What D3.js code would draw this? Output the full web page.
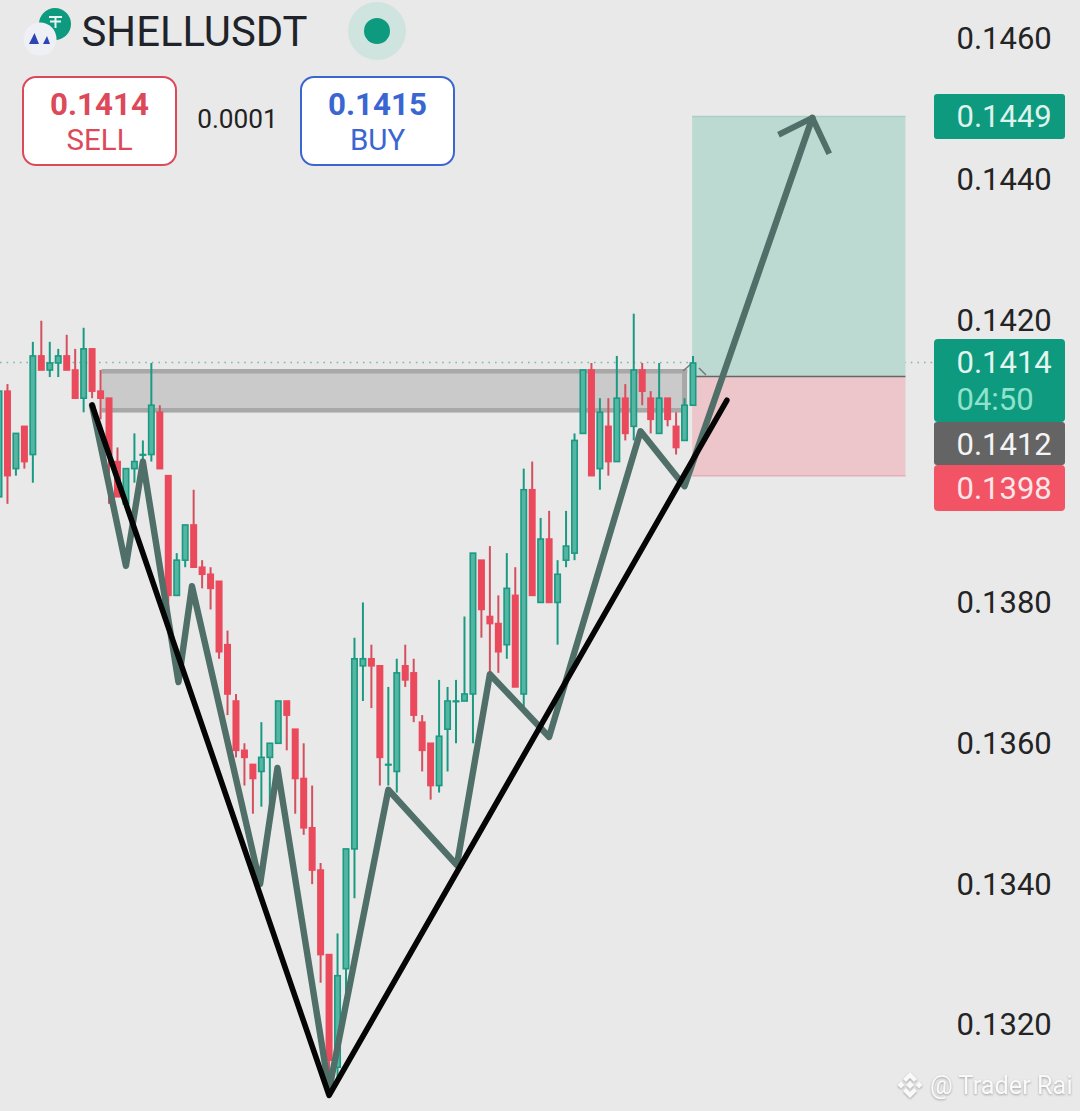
<!DOCTYPE html>
<html><head><meta charset="utf-8">
<script src="https://cdn.jsdelivr.net/npm/d3@7/dist/d3.min.js"></script>
<style>
html,body{margin:0;padding:0;background:#e9e9e9;overflow:hidden}
svg{display:block}
text{font-family:Roboto,sans-serif}
</style></head><body><svg id="c" width="1080" height="1111"></svg>
<script>
const opens=[.1395,.1410,.1399,.1405,.1401,.1415,.1413,.1414,.1415,.1413,.1409,.1416,.1410,.1409,.1400,.1394,.1399,.1401,.1401,.1407,.1398,.1381,.1386,.1391,.1385,.1384,.1383,.1374,.1366,.1359,.1357,.1356,.1358,.1360,.1366,.1362,.1355,.1348,.1342,.1330,.1314,.1328,.1345,.1371,.1372,.1371,.1357,.1356,.1371,.1370,.1363,.1360,.1354,.1362,.1366,.1366,.1367,.1386,.1378,.1377,.1374,.1381,.1367,.1396,.1380,.1389,.1380,.1386,.1387,.1404,.1413,.1399,.1405,.1400,.1409,.1405,.1413,.1409,.1404,.1409,.1405,.1403,.1408];
const highs=[.1411,.1411,.1404,.1405,.1417,.1420,.1417,.1416,.1418,.1416,.1419,.1416,.1413,.1409,.1402,.1399,.1404,.1403,.1414,.1408,.1398,.1387,.1391,.1396,.1386,.1385,.1383,.1376,.1367,.1360,.1357,.1363,.1360,.1366,.1366,.1362,.1360,.1354,.1343,.1330,.1333,.1345,.1375,.1380,.1374,.1371,.1368,.1372,.1374,.1372,.1364,.1360,.1369,.1368,.1369,.1378,.1387,.1386,.1388,.1381,.1387,.1385,.1399,.1400,.1392,.1393,.1386,.1393,.1404,.1413,.1414,.1409,.1409,.1415,.1411,.1421,.1414,.1410,.1414,.1409,.1407,.1409,.1415];
const lows=[.1394,.1394,.1398,.1399,.1397,.1413,.1412,.1412,.1413,.1409,.1407,.1409,.1406,.1394,.1395,.1394,.1397,.1398,.1400,.1399,.1376,.1381,.1385,.1385,.1382,.1379,.1372,.1364,.1358,.1354,.1350,.1351,.1349,.1360,.1359,.1350,.1347,.1340,.1326,.1313,.1312,.1323,.1338,.1366,.1365,.1354,.1354,.1353,.1368,.1363,.1356,.1352,.1353,.1356,.1360,.1366,.1360,.1375,.1370,.1370,.1372,.1368,.1365,.1381,.1380,.1380,.1374,.1385,.1386,.1404,.1398,.1396,.1398,.1400,.1403,.1403,.1408,.1404,.1404,.1405,.1401,.1403,.1408];
const closes=[.1410,.1398,.1404,.1400,.1415,.1413,.1414,.1415,.1413,.1409,.1416,.1410,.1409,.1401,.1395,.1399,.1400,.1401,.1408,.1399,.1381,.1386,.1391,.1385,.1384,.1382,.1373,.1367,.1359,.1358,.1355,.1358,.1360,.1366,.1364,.1355,.1348,.1342,.1330,.1315,.1327,.1345,.1372,.1372,.1371,.1358,.1357,.1370,.1369,.1364,.1359,.1354,.1361,.1366,.1366,.1367,.1387,.1379,.1377,.1373,.1382,.1368,.1396,.1381,.1389,.1380,.1384,.1388,.1403,.1413,.1398,.1407,.1400,.1409,.1404,.1413,.1410,.1406,.1409,.1406,.1402,.1408,.1414];
const axisTicks=[.1460,.1440,.1420,.1380,.1360,.1340,.1320];
const lastPrice=.1414, entryPrice=.1412, targetPrice=.1449, stopPrice=.1398;
const zoneTop=.1413, zoneBottom=.1407, zoneStart=12.0, zoneEnd=81;
const boxStart=81.9, boxEnd=107.1;
const trendBars=[11,39,86], trendPrices=[.1408,.1310,.14087];
const zigBars=[11,15,17,21.2,22.8,30.85,32.9,39,46,54.1,58,65,75.8,81,96.1];
const zigPrices=[.1408,.13852,.1400,.13687,.13823,.1340,.13565,.13108,.13534,.13427,.13698,.13609,.14043,.13965,.14488];
const headBars=[92.1,96.1,98.1], headPrices=[.14464,.14488,.14437];
const symbol="SHELLUSDT", sellPrice="0.1414", buyPrice="0.1415", spread="0.0001", countdown="04:50", watermark="@ Trader Rai";

const UP="#1a9a82", UPFILL="#55b5a3", DOWN="#ea4a5c", DOWNW="#d4505f";
const svg=d3.select("#c");
const x=d3.scaleLinear().domain([0,82]).range([-1,693]);
const y=d3.scaleLinear().domain([.1460,.1320]).range([39,1025]);
const fmt=d=>d.toFixed(4);
const candles=opens.map((o,i)=>({i,o,h:highs[i],l:lows[i],c:closes[i]}));

// last price dotted line
svg.append("line").attr("x1",0).attr("x2",934).attr("y1",y(lastPrice)-.5).attr("y2",y(lastPrice)-.5)
 .attr("stroke","#7db8aa").attr("stroke-width",1.4).attr("stroke-dasharray","1.6 5");

// position boxes
svg.append("rect").attr("x",x(boxStart)).attr("width",x(boxEnd)-x(boxStart)).attr("y",y(targetPrice)).attr("height",y(entryPrice)-y(targetPrice)).attr("fill","#bcd9d2");
svg.append("rect").attr("x",x(boxStart)).attr("width",x(boxEnd)-x(boxStart)).attr("y",y(entryPrice)).attr("height",y(stopPrice)-y(entryPrice)).attr("fill","#edc6cb");
svg.append("line").attr("x1",x(boxStart)).attr("x2",x(boxEnd)).attr("y1",y(targetPrice)).attr("y2",y(targetPrice)).attr("stroke","#a9cfc6").attr("stroke-width",1.5);
svg.append("line").attr("x1",x(boxStart)).attr("x2",x(boxEnd)).attr("y1",y(stopPrice)).attr("y2",y(stopPrice)).attr("stroke","#e3aeb5").attr("stroke-width",1.5);
svg.append("line").attr("x1",x(boxStart)).attr("x2",x(boxEnd)).attr("y1",y(entryPrice)-.5).attr("y2",y(entryPrice)-.5).attr("stroke","#666").attr("stroke-width",1.6);

// grey zone
svg.append("rect").attr("x",x(zoneStart)+1).attr("width",x(zoneEnd)-x(zoneStart)+1).attr("y",y(zoneTop)-1).attr("height",y(zoneBottom)-y(zoneTop)+1).attr("fill","#cacaca");
[[zoneStart,zoneEnd+.2,zoneTop,zoneTop],[zoneStart,zoneEnd+.2,zoneBottom,zoneBottom]].forEach(s=>{
 svg.append("line").attr("x1",x(s[0])+1).attr("x2",x(s[1])+1).attr("y1",y(s[2])+(s[2]===zoneTop?1.2:-2)).attr("y2",y(s[3])+(s[2]===zoneTop?1.2:-2)).attr("stroke","#a8a8a8").attr("stroke-width",4.6);
});
svg.append("line").attr("x1",x(zoneEnd)).attr("x2",x(zoneEnd)).attr("y1",y(zoneTop)).attr("y2",y(zoneBottom)).attr("stroke","#a8a8a8").attr("stroke-width",5);
// tiny corner ticks
svg.append("path").attr("d",d3.line()([[683,371],[691,364]])).attr("stroke","#777").attr("stroke-width",1.5).attr("fill","none");
svg.append("path").attr("d",d3.line()([[699,368],[706,375]])).attr("stroke","#777").attr("stroke-width",1.5).attr("fill","none");

// candles
const g=svg.append("g").selectAll("g").data(candles).join("g");
g.append("line").attr("x1",d=>x(d.i)).attr("x2",d=>x(d.i)).attr("y1",d=>y(d.h)).attr("y2",d=>y(d.l))
 .attr("stroke",d=>d.c>=d.o?UP:DOWNW).attr("stroke-width",2);
g.append("rect").attr("x",d=>x(d.i)-2.7).attr("width",5.4)
 .attr("y",d=>y(Math.max(d.o,d.c))).attr("height",d=>Math.max(.6,Math.abs(y(d.o)-y(d.c))))
 .attr("fill",d=>d.c>=d.o?UPFILL:DOWN).attr("stroke",d=>d.c>=d.o?UP:DOWN).attr("stroke-width",1.6);

// drawn pattern
const line=d3.line().x(d=>x(d[0])).y(d=>y(d[1]));
svg.append("path").attr("d",line(d3.zip(zigBars,zigPrices))).attr("fill","none").attr("stroke","#4f6f68").attr("stroke-width",6.4).attr("stroke-linejoin","round").attr("stroke-linecap","round");
svg.append("path").attr("d",line(d3.zip(headBars,headPrices))).attr("fill","none").attr("stroke","#4f6f68").attr("stroke-width",6).attr("stroke-linejoin","round").attr("stroke-linecap","butt");
svg.append("path").attr("d",line(d3.zip(trendBars,trendPrices))).attr("fill","none").attr("stroke","#050505").attr("stroke-width",5.6).attr("stroke-linejoin","round").attr("stroke-linecap","round");

// axis
const axis=d3.axisRight(y).tickValues(axisTicks).tickFormat(fmt).tickSize(0).tickPadding(0);
const ax=svg.append("g").attr("transform","translate(956.5,0)").call(axis);
ax.select(".domain").remove();
ax.selectAll("text").attr("font-family","Roboto,sans-serif").attr("font-size",31).attr("fill","#242424").attr("dy","0.32em");

// price tags
function tag(y0,y1,col,radius){svg.append("rect").attr("x",934).attr("width",131).attr("y",y0).attr("height",y1-y0).attr("rx",radius).attr("fill",col);}
function lab(t,cy,col,size){svg.append("text").attr("x",956.5).attr("y",cy).attr("dy","0.33em").attr("font-size",size||31).attr("fill",col).text(t);}
tag(94,139,"#0e9a7e",3);
tag(339,422,"#0e9a7e",4);
tag(422,465,"#646464",3);
tag(465,511,"#f25465",4);
lab(fmt(targetPrice),117,"#dff3ec");
lab(fmt(lastPrice),363,"#e3f5ef");
lab(countdown,400,"#8fe3cd");
lab(fmt(entryPrice),445,"#f4f4f4");
lab(fmt(stopPrice),489,"#fbe6e8");

// header
svg.append("circle").attr("cx",55).attr("cy",24).attr("r",16).attr("fill","#0e9a7e");
svg.append("path").attr("d","M49 17H62M55.500 17V28M50 21.500H61").attr("stroke","#e8f5f1").attr("stroke-width",2).attr("fill","none");
svg.append("circle").attr("cx",40).attr("cy",39).attr("r",16.500).attr("fill","#eff0f6");
svg.append("path").attr("d","M29 44L34.500 33L39 44ZM43 44L47 36L50 44Z").attr("fill","#2b45b5");
svg.append("text").attr("x",81.500).attr("y",31).attr("dy","0.36em").attr("font-size",41.800).attr("fill","#20242a").text(symbol);
svg.append("circle").attr("cx",377).attr("cy",31).attr("r",29).attr("fill","#cfe3df");
svg.append("circle").attr("cx",377).attr("cy",31).attr("r",13).attr("fill","#0e9a7e");

function btn(xx,w,col,val,name){
 svg.append("rect").attr("x",xx).attr("y",77).attr("width",w).attr("height",88).attr("rx",13).attr("fill","#fff").attr("stroke",col).attr("stroke-width",2);
 svg.append("text").attr("x",xx+w/2).attr("y",104).attr("dy","0.34em").attr("text-anchor","middle").attr("font-size",31.300).attr("font-weight",700).attr("fill",col).text(val);
 svg.append("text").attr("x",xx+w/2).attr("y",140).attr("dy","0.34em").attr("text-anchor","middle").attr("font-size",29.500).attr("fill",col).text(name);
}
btn(23,153,"#dc4a5a",sellPrice,"SELL");
btn(301,153,"#3a66d2",buyPrice,"BUY");
svg.append("text").attr("x",237.500).attr("y",119).attr("dy","0.36em").attr("text-anchor","middle").attr("font-size",26.200).attr("fill","#222").text(spread);

// watermark
const wm=svg.append("g").style("filter","drop-shadow(0 1px 1px rgba(0,0,0,.3))");
wm.append("path").attr("fill","#f9f9f9").attr("d","M910 1072L917 1079L914 1082L910 1078L906 1082L903 1079ZM897.500 1085L901 1081.500L904.500 1085L901 1088.500ZM915.500 1085L919 1081.500L922.500 1085L919 1088.500ZM910 1081L914 1085L910 1089L906 1085ZM910 1098L903 1091L906 1088L910 1092L914 1088L917 1091Z");
wm.append("text").attr("x",930).attr("y",1085).attr("dy","0.36em").attr("font-family","'Open Sans',sans-serif").attr("font-size",25.300).attr("fill","#f9f9f9").text(watermark);
</script></body></html>
